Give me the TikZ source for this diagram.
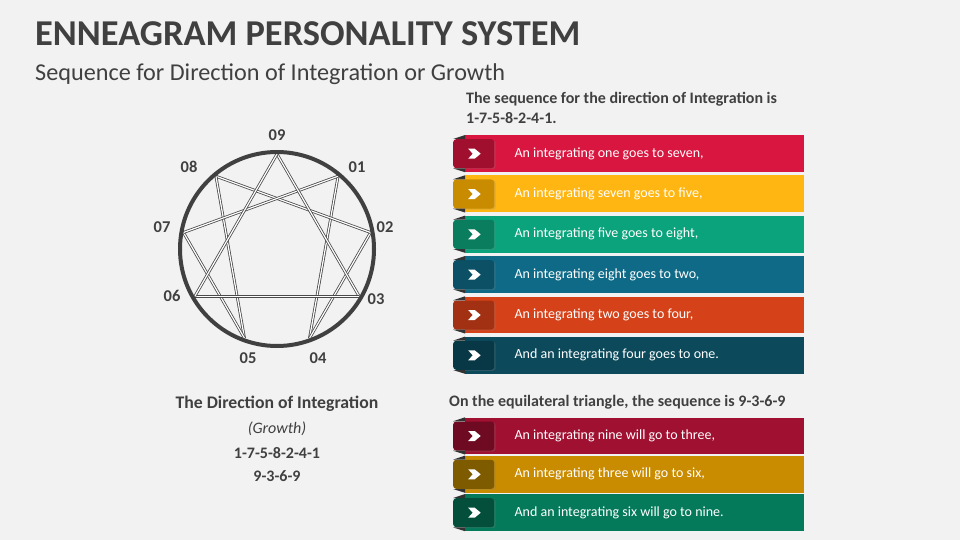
\documentclass[tikz,border=0pt]{standalone}
\usepackage{fontspec}
\setmainfont{Carlito}
\usetikzlibrary{positioning,calc,shadows}
\definecolor{slidebg}{HTML}{F2F2F2}
\definecolor{darktext}{HTML}{404040}
\definecolor{ringgray}{HTML}{404040}
\definecolor{chordgray}{HTML}{4A4A4A}
\definecolor{barA}{HTML}{D9163F}\definecolor{tabA}{HTML}{A00F2E}
\definecolor{barB}{HTML}{FFB612}\definecolor{tabB}{HTML}{C98C00}
\definecolor{barC}{HTML}{0BA37B}\definecolor{tabC}{HTML}{097D5D}
\definecolor{barD}{HTML}{0F6A88}\definecolor{tabD}{HTML}{0C5066}
\definecolor{barE}{HTML}{D54219}\definecolor{tabE}{HTML}{A23113}
\definecolor{barF}{HTML}{0C4A5B}\definecolor{tabF}{HTML}{083845}
\definecolor{barG}{HTML}{A01031}\definecolor{tabG}{HTML}{6E0A21}
\definecolor{barH}{HTML}{C98B00}\definecolor{tabH}{HTML}{7F5B00}
\definecolor{barI}{HTML}{047A5B}\definecolor{tabI}{HTML}{034F3B}
\tikzset{
    bar/.style={fill=#1, minimum width=339pt, minimum height=37pt,
        inner sep=0pt, anchor=north west},
    tab/.style={fill=#1, rounded corners=3pt, minimum width=41pt,
        minimum height=29pt, inner sep=0pt, anchor=north west,
        drop shadow={opacity=.25, shadow xshift=1.5pt, shadow yshift=-1pt}},
    fold/.style={fill=black!80},
    bar text/.style={inner sep=0pt, anchor=west, text=white,
        font=\fontsize{14}{16}\selectfont},
    point label/.style={inner sep=0pt, text=darktext,
        font=\bfseries\fontsize{16.5}{18}\selectfont},
    chord/.style={draw=chordgray, line width=.8pt, double=white,
        double distance=1.2pt},
    ring/.style={draw=ringgray, line width=4pt},
    head text/.style={inner sep=0pt, text=darktext,
        font=\bfseries\fontsize{16}{18}\selectfont},
}
\begin{document}
\begin{tikzpicture}[x=1pt,y=-1pt]
    \fill[slidebg] (0,0) rectangle (960,540);
    \useasboundingbox (0,0) rectangle (960,540);

    % titles
    \node[inner sep=0pt, anchor=base west, text=darktext,
        font=\bfseries\fontsize{36.4}{40}\selectfont] (title) at (35,46)
        {ENNEAGRAM PERSONALITY SYSTEM};
    \node[inner sep=0pt, anchor=base west, text=darktext,
        font=\fontsize{24.2}{28}\selectfont] (subtitle) at (35,81)
        {Sequence for Direction of Integration or Growth};

    % enneagram
    \coordinate (c) at (277,249);
    \foreach \n in {1,...,9}
        \coordinate (p\n) at ($(c)+({90-40*\n}:95pt)$);
    \foreach \a/\b in {1/4,4/2,2/8,8/5,5/7,7/1,9/3,3/6,6/9}
        \draw[chord] (p\a) -- (p\b);
    \draw[ring] (c) circle[radius=97pt];
    \foreach \n/\px/\py in {9/277/135,1/357/167,2/385/227,3/376/299,4/318/358,
                           5/248/358,6/172/296,7/162/227,8/189/167}
        \node[point label] (l\n) at (\px,\py) {0\n};

    % left captions
    \node[head text, anchor=base, font=\bfseries\fontsize{17.7}{20}\selectfont]
        (dirhead) at (277,408) {The Direction of Integration};
    \node[inner sep=0pt, anchor=base, text=darktext,
        font=\itshape\fontsize{16}{18}\selectfont] (growth) at (277,433) {(Growth)};
    \node[head text, anchor=base] (seqa) at (277,458) {1-7-5-8-2-4-1};
    \node[head text, anchor=base] (seqb) at (277,481.5) {9-3-6-9};

    % right headings
    \node[head text, anchor=base west] (head1) at (466,103.3)
        {The sequence for the direction of Integration is};
    \node[head text, anchor=base west] (head2) at (466,123.3) {1-7-5-8-2-4-1.};
    \node[head text, anchor=base west] (head3) at (449,406.7)
        {On the equilateral triangle, the sequence is 9-3-6-9};

    % banners
    \foreach \i/\top/\barcol/\tabcol/\txt in {
        1/135/barA/tabA/{An integrating one goes to seven,},
        2/175.3/barB/tabB/{An integrating seven goes to five,},
        3/215.6/barC/tabC/{An integrating five goes to eight,},
        4/256/barD/tabD/{An integrating eight goes to two,},
        5/296.3/barE/tabE/{An integrating two goes to four,},
        6/336.6/barF/tabF/{And an integrating four goes to one.},
        7/417.3/barG/tabG/{An integrating nine will go to three,},
        8/455.6/barH/tabH/{An integrating three will go to six,},
        9/494/barI/tabI/{And an integrating six will go to nine.}}
    {
        \node[bar=\barcol, minimum height=36.8pt] (bar\i) at (465,\top) {};
        \node[tab=\tabcol] (tab\i) at (453,\top+4) {};
        \fill[fold] (tab\i.north west) -- (bar\i.north west)
            -- (bar\i.north west |- tab\i.north) -- cycle;
        \fill[fold] (tab\i.south west) -- (bar\i.south west)
            -- (bar\i.south west |- tab\i.south) -- cycle;
        \fill[white, shift={(tab\i.center)}] (-5.5,-5) -- (1,-5) -- (7,0)
            -- (1,5) -- (-5.5,5) -- (-1,0) -- cycle;
        \node[bar text, right=20pt of tab\i] (txt\i) {\txt};
    }
\end{tikzpicture}
\end{document}
